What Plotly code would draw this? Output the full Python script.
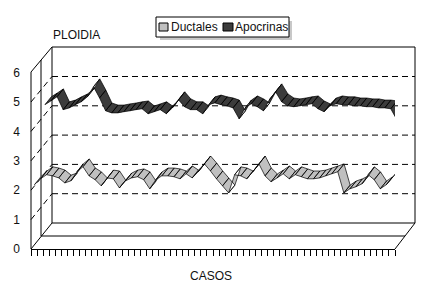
import plotly.graph_objects as go

# ---------------- data ----------------
ductales = [2.17, 2.37, 2.51, 2.47, 2.40, 2.23, 2.30, 2.61, 2.78, 2.47,
            2.34, 2.13, 2.40, 2.37, 2.06, 2.30, 2.40, 2.44, 2.34, 2.03,
            2.34, 2.47, 2.47, 2.44, 2.37, 2.54, 2.40, 2.61, 2.88, 2.64,
            2.37, 2.13, 1.89, 2.51, 2.47, 2.37, 2.61, 2.88, 2.47, 2.27,
            2.40, 2.54, 2.37, 2.51, 2.44, 2.37, 2.37, 2.40, 2.47, 2.54,
            2.61, 1.89, 2.03, 2.10, 2.20, 2.51, 2.34, 2.03, 2.17, 2.40]
apocrinas = [4.45, 4.58, 4.72, 4.28, 4.34, 4.45, 4.55, 4.72, 5.06, 4.68,
             4.24, 4.17, 4.17, 4.21, 4.24, 4.28, 4.31, 4.14, 4.21, 4.28,
             4.14, 4.34, 4.62, 4.38, 4.28, 4.28, 4.14, 4.45, 4.51, 4.45,
             4.41, 4.34, 3.97, 4.34, 4.48, 4.38, 4.24, 4.62, 4.89, 4.55,
             4.41, 4.38, 4.41, 4.45, 4.48, 4.31, 4.21, 4.41, 4.48, 4.45,
             4.45, 4.41, 4.41, 4.38, 4.38, 4.34, 4.34, 4.31, 3.94]
n_casos = 60
y_ticks = [0, 1, 2, 3, 4, 5, 6]
series_names = ["Ductales", "Apocrinas"]
series_colors = ["#c0c0c0", "#3c3c3c"]

# ---------------- geometry (pseudo 3D) ----------------
W, H = 434, 292
L, R, T, B = 31, 395, 47, 249          # front plot box in pixels
X_RANGE = [0, n_casos]
PX_PER_Y = 29.4
Y_RANGE = [0, (B - T) / PX_PER_Y]
DEPTH_DX = 21 / ((R - L) / n_casos)    # full depth offset in x units
DEPTH_DY = 26 / PX_PER_Y               # full depth offset in y units


def ribbon(values, d0, d1):
    xs, ys = [], []
    for k in range(len(values) - 1):
        a, b = values[k], values[k + 1]
        xa, xb = k + 0.5, k + 1.5
        pts = [(xa + DEPTH_DX * d0, a + DEPTH_DY * d0),
               (xb + DEPTH_DX * d0, b + DEPTH_DY * d0),
               (xb + DEPTH_DX * d1, b + DEPTH_DY * d1),
               (xa + DEPTH_DX * d1, a + DEPTH_DY * d1),
               (xa + DEPTH_DX * d0, a + DEPTH_DY * d0)]
        for p in pts:
            xs.append(p[0]); ys.append(p[1])
        xs.append(None); ys.append(None)
    return xs, ys


fig = go.Figure()
# back series first
for vals, name, col, d0, d1 in [(apocrinas, series_names[1], series_colors[1], 0.52, 0.82),
                                (ductales, series_names[0], series_colors[0], 0.02, 0.32)]:
    xs, ys = ribbon(vals, d0, d1)
    fig.add_trace(go.Scatter(x=xs, y=ys, mode="lines", fill="toself", fillcolor=col,
                             line=dict(color="#000000", width=0.7), name=name,
                             showlegend=False, hoverinfo="skip"))


def PXc(x):
    return (x - L) / (R - L)


def PYc(y):
    return (B - y) / (B - T)


shapes = []


def line(x0, y0, x1, y1, dash="solid", width=1, color="#000000"):
    shapes.append(dict(type="line", xref="paper", yref="paper",
                       x0=PXc(x0), y0=PYc(y0), x1=PXc(x1), y1=PYc(y1),
                       line=dict(color=color, width=width, dash=dash), layer="below"))


# back wall gridlines (dashed)
for v in [1, 2, 3, 4, 5]:
    yb = 223 - 29.3 * v
    line(52, yb, 415, yb, dash="6px,4px")
    line(31, 249 - PX_PER_Y * v, 52, yb, dash="6px,4px")
# side wall
line(31, 72, 31, 249)
line(41, 60, 41, 236)
line(52, 47, 52, 223)
line(31, 72, 52, 47)
line(31, 249, 52, 223)
# floor
line(41, 236, 405, 236)
line(52, 223, 415, 223)
line(395, 249, 415, 223)
# back wall
line(52, 47, 415, 47)
line(415, 47, 415, 223)

# legend (custom)
def rect(x0, y0, x1, y1, fill, lc, lw, layer="above"):
    shapes.append(dict(type="rect", xref="paper", yref="paper",
                       x0=PXc(x0), y0=PYc(y1), x1=PXc(x1), y1=PYc(y0),
                       fillcolor=fill, line=dict(color=lc, width=lw), layer=layer))


rect(160, 21, 292, 40, "#c8c8c8", "rgba(0,0,0,0)", 0)
rect(156, 17, 289, 37, "#ffffff", "#000000", 1)
rect(159, 23, 168, 31, series_colors[0], "#000000", 1)
rect(223, 23, 233, 31, series_colors[1], "#000000", 1)

font = dict(family="Liberation Sans, Arial, sans-serif", size=12, color="#111111")
annotations = [
    dict(x=PXc(169), y=PYc(27), xref="paper", yref="paper", text=series_names[0],
         showarrow=False, xanchor="left", yanchor="middle", font=font),
    dict(x=PXc(233), y=PYc(27), xref="paper", yref="paper", text=series_names[1],
         showarrow=False, xanchor="left", yanchor="middle", font=font),
    dict(x=PXc(51), y=PYc(35), xref="paper", yref="paper", text="PLOIDIA",
         showarrow=False, xanchor="left", yanchor="middle", font=font),
    dict(x=PXc(211), y=PYc(276), xref="paper", yref="paper", text="CASOS",
         showarrow=False, xanchor="center", yanchor="middle", font=font),
]

fig.update_layout(
    width=W, height=H,
    margin=dict(l=L, r=W - R, t=T, b=H - B, pad=0),
    paper_bgcolor="#ffffff", plot_bgcolor="rgba(0,0,0,0)",
    showlegend=False,
    shapes=shapes, annotations=annotations,
    xaxis=dict(range=X_RANGE, tickvals=list(range(n_casos + 1)),
               ticktext=[""] * (n_casos + 1), ticks="outside", ticklen=6,
               tickcolor="#000000", tickwidth=1, showline=True, linecolor="#000000",
               linewidth=1, showgrid=False, zeroline=False, fixedrange=True),
    yaxis=dict(range=Y_RANGE, tickvals=y_ticks, ticktext=[str(v) for v in y_ticks],
               ticks="", showgrid=False, zeroline=False, showline=False,
               tickfont=font, ticklabelstandoff=10, fixedrange=True),
)

fig.write_html("out.html", config={"displayModeBar": False})
